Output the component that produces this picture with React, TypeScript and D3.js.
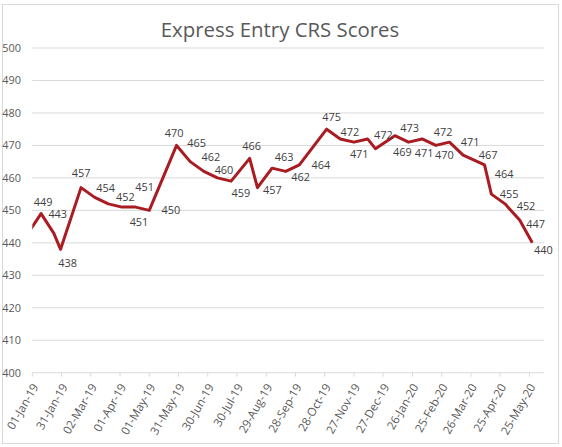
import * as React from 'react';
import * as d3 from 'd3';

// draw dates and CRS cut-off scores
const drawDates = [
  '19-Dec-18', '10-Jan-19', '23-Jan-19', '30-Jan-19', '20-Feb-19', '06-Mar-19', '20-Mar-19',
  '03-Apr-19', '17-Apr-19', '01-May-19', '29-May-19', '12-Jun-19', '26-Jun-19', '10-Jul-19',
  '24-Jul-19', '12-Aug-19', '20-Aug-19', '04-Sep-19', '18-Sep-19', '02-Oct-19', '30-Oct-19',
  '13-Nov-19', '27-Nov-19', '11-Dec-19', '19-Dec-19', '08-Jan-20', '22-Jan-20', '05-Feb-20',
  '19-Feb-20', '04-Mar-20', '18-Mar-20', '09-Apr-20', '16-Apr-20', '30-Apr-20', '15-May-20',
  '28-May-20',
];
const scores = [
  439, 449, 443, 438, 457, 454, 452, 451, 451, 450, 470, 465, 462, 460, 459, 466, 457, 463,
  462, 464, 475, 472, 471, 472, 469, 473, 471, 472, 470, 471, 467, 464, 455, 452, 447, 440,
];
// manual data label nudges (px), one per draw
const labelNudge: [number, number][] = [
  [0, 0], [2, -11], [4, -19], [7, 14], [0, -14], [11, -9], [17, -7], [17, 15.5], [9, -20],
  [21.6, 0], [-2.5, -12], [6.5, -18], [7, -14], [6.5, -7.6], [9.7, 12], [2, -12], [15, 3],
  [12, -10.6], [15, 6], [21.5, 0], [5, -12], [9.6, -6.4], [5.3, 12], [15.7, -3.7], [27, 4],
  [14.7, -7], [15.6, 10.7], [21, -7], [8.5, 10], [20.7, 0], [25, 0], [19.5, 9.7], [17.7, 0],
  [21, 2.5], [16, 3.6], [11, 7],
];
const xTickLabels = [
  '01-Jan-19', '31-Jan-19', '02-Mar-19', '01-Apr-19', '01-May-19', '31-May-19', '30-Jun-19',
  '30-Jul-19', '29-Aug-19', '28-Sep-19', '28-Oct-19', '27-Nov-19', '27-Dec-19', '26-Jan-20',
  '25-Feb-20', '26-Mar-20', '25-Apr-20', '25-May-20',
];
const yTicks = [400, 410, 420, 430, 440, 450, 460, 470, 480, 490, 500];
const xDomain = ['01-Jan-19', '09-Jun-20'];

const parse = d3.utcParse('%d-%b-%y');
const W = 562;
const H = 447;
const FONT = '"Open Sans", "Noto Sans", sans-serif';

export default function App() {
  const plot = { left: 32.3, right: 544, top: 48, bottom: 372.7 };

  const x = d3.scaleUtc()
    .domain(xDomain.map(d => parse(d) as Date))
    .range([plot.left, plot.right]);
  const y = d3.scaleLinear().domain([400, 500]).range([plot.bottom, plot.top]);

  const points = drawDates.map((d, i) => ({ date: parse(d) as Date, v: scores[i], i }));
  const line = d3.line<typeof points[0]>()
    .x(d => x(d.date))
    .y(d => y(d.v));

  const [d0, d1] = x.domain();
  const visible = points.filter(p => p.date >= d0 && p.date <= d1);

  return (
    <div style={{ position: 'absolute', left: 0, top: 0 }}>
      <svg width={W} height={H} style={{ display: 'block', fontFamily: FONT }}>
        <defs>
          <clipPath id="plot-clip">
            <rect x={plot.left} y={0} width={plot.right - plot.left} height={H} />
          </clipPath>
        </defs>
        <rect x={0} y={0} width={W} height={H} fill="#fff" />
        <rect x={2.5} y={4.5} width={556} height={439} fill="none" stroke="#d9d9d9" />

        <text x={280} y={36.5} textAnchor="middle" fontSize={20.4} fill="#595959">
          Express Entry CRS Scores
        </text>

        {yTicks.map(t => (
          <g key={t}>
            <line x1={plot.left} x2={plot.right} y1={y(t)} y2={y(t)} stroke="#d9d9d9" strokeWidth={1} />
            <text x={21} y={y(t)} dy="0.35em" textAnchor="end" fontSize={10.9} fill="#595959">{t}</text>
          </g>
        ))}

        {xTickLabels.map(l => {
          const tx = x(parse(l) as Date);
          return (
            <g key={l}>
              <line x1={tx} x2={tx} y1={plot.bottom} y2={plot.bottom + 4} stroke="#d9d9d9" />
              <text
                transform={`translate(${tx + 3},${plot.bottom + 12}) rotate(-60)`}
                textAnchor="end"
                dy="0.35em"
                fontSize={11.6}
                fill="#595959"
              >
                {l}
              </text>
            </g>
          );
        })}

        <path
          d={line(points) ?? ''}
          fill="none"
          stroke="#a81c22"
          strokeWidth={3}
          strokeLinejoin="round"
          clipPath="url(#plot-clip)"
        />

        {visible.map(p => (
          <text
            key={p.i}
            x={x(p.date) + labelNudge[p.i][0]}
            y={y(p.v) + labelNudge[p.i][1]}
            dy="0.35em"
            textAnchor="middle"
            fontSize={10.9}
            fill="#404040"
          >
            {p.v}
          </text>
        ))}
      </svg>
    </div>
  );
}
